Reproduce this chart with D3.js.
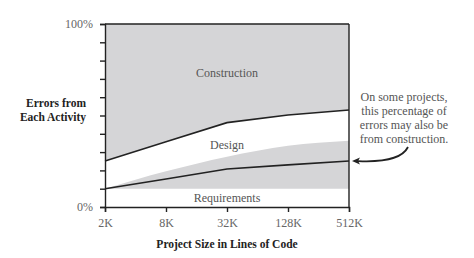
<!DOCTYPE html>
<html><head><meta charset="utf-8">
<script src="https://cdn.jsdelivr.net/npm/d3@7"></script>
<style>body{margin:0;background:#fff}svg{display:block}</style>
</head><body>
<svg id="c" width="474" height="258"></svg>
<script>
const sizes = [2, 8, 32, 128, 512];
const sizeLabels = ["2K", "8K", "32K", "128K", "512K"];
const requirementsTop = [10, 15.3, 20.8, 23, 25.1];
const designTop = [25.1, 35.7, 46.1, 50.3, 53];
const bandBottom = [10, 10, 10, 10, 10];
const bandTop = [10, 19.5, 27.5, 33.5, 36.2];
const yTicks = [0,10,20,30,40,50,60,70,80,90,100];
const yTickLabels = {0:"0%", 100:"100%"};
const noteLines = ["On some projects,", "this percentage of", "errors may also be", "from construction."];

const svg = d3.select("#c");
const L = 105, R = 349, T = 24, B = 207;
const x = d3.scaleLog().base(2).domain([2, 512]).range([L, R]);
const y = d3.scaleLinear().domain([0, 100]).range([B, T]);
const serif = "'Liberation Serif', 'DejaVu Serif', serif";
const grey = "#d5d5d7";
const ink = "#222";
const txt = "#555";

const rows = sizes.map((s, i) => ({s, r: requirementsTop[i], d: designTop[i], bb: bandBottom[i], bt: bandTop[i]}));

svg.append("path").datum(rows)
  .attr("d", d3.area().x(d => x(d.s)).y0(d => y(d.d)).y1(() => y(100)))
  .attr("fill", grey);
svg.append("path").datum(rows)
  .attr("d", d3.area().curve(d3.curveMonotoneX).x(d => x(d.s)).y0(d => y(d.bb)).y1(d => y(d.bt)))
  .attr("fill", grey);
const line = d3.line().x(d => x(d[0])).y(d => y(d[1]));
svg.append("path").datum(rows.map(d => [d.s, d.d])).attr("d", line)
  .attr("fill", "none").attr("stroke", ink).attr("stroke-width", 1.6);
svg.append("path").datum(rows.map(d => [d.s, d.r])).attr("d", line)
  .attr("fill", "none").attr("stroke", ink).attr("stroke-width", 1.6);

svg.append("line").attr("x1", L).attr("x2", R).attr("y1", y(100)).attr("y2", y(100)).attr("stroke", ink).attr("stroke-width", 1.4);
svg.append("line").attr("x1", R).attr("x2", R).attr("y1", y(100)).attr("y2", y(0)).attr("stroke", ink).attr("stroke-width", 1.4);

const yAxis = d3.axisLeft(y).tickValues(yTicks).tickSize(5).tickFormat(d => yTickLabels[d] || "");
const gy = svg.append("g").attr("transform", `translate(${L},0)`).call(yAxis);
gy.select(".domain").attr("stroke", ink).attr("stroke-width", 1.4);
gy.selectAll(".tick line").attr("stroke", ink).attr("stroke-width", 1.4);
gy.selectAll(".tick text").attr("x", -12).attr("fill", "#666").style("font-family", serif).style("font-size", "12px");

const xAxis = d3.axisBottom(x).tickValues(sizes).tickSize(5).tickFormat((d, i) => sizeLabels[i]);
const gx = svg.append("g").attr("transform", `translate(0,${B})`).call(xAxis);
gx.select(".domain").attr("stroke", ink).attr("stroke-width", 1.4);
gx.selectAll(".tick line").attr("stroke", ink).attr("stroke-width", 1.4);
gx.selectAll(".tick text").attr("y", 11).attr("fill", "#666").style("font-family", serif).style("font-size", "12px");

const lab = (t, xx, yy) => svg.append("text").attr("x", xx).attr("y", yy).attr("text-anchor", "middle")
  .attr("fill", txt).style("font-family", serif).style("font-size", "12px").text(t);
lab("Construction", x(32), 77);
lab("Design", x(32), 149);
lab("Requirements", x(32), 202);

svg.append("text").attr("x", 86).attr("y", 107).attr("text-anchor", "end").attr("fill", "#222")
  .style("font-family", serif).style("font-size", "11.5px").style("font-weight", "bold").text("Errors from");
svg.append("text").attr("x", 86).attr("y", 121).attr("text-anchor", "end").attr("fill", "#222")
  .style("font-family", serif).style("font-size", "11.5px").style("font-weight", "bold").text("Each Activity");
svg.append("text").attr("x", x(32)).attr("y", 248).attr("text-anchor", "middle").attr("fill", "#222")
  .style("font-family", serif).style("font-size", "11.5px").style("font-weight", "bold").text("Project Size in Lines of Code");

noteLines.forEach((t, i) => {
  svg.append("text").attr("x", 404).attr("y", 101 + i * 14).attr("text-anchor", "middle")
    .attr("fill", txt).style("font-family", serif).style("font-size", "12px").text(t);
});
const tipX = R + 3, tipY = y(requirementsTop[4]);
svg.append("path").attr("d", `M408,147 Q400,163 ${tipX + 6},${tipY}`)
  .attr("fill", "none").attr("stroke", ink).attr("stroke-width", 1.8);
svg.append("path").attr("d", `M${tipX},${tipY} L${tipX + 8},${tipY - 3.5} L${tipX + 6},${tipY} L${tipX + 8},${tipY + 3.5} Z`)
  .attr("fill", ink);
</script>
</body></html>
